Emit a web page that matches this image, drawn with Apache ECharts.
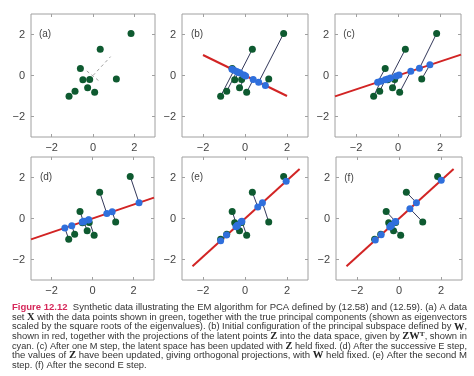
<!DOCTYPE html>
<html><head><meta charset="utf-8">
<script src="https://cdn.jsdelivr.net/npm/echarts@6/dist/echarts.min.js"></script>
<style>html,body{margin:0;padding:0;background:#fff}#c{width:474px;height:376px}</style>
</head><body><div id="c"></div>
<script>
// ---- data ----
const greenX = [1.84, 0.35, -0.61, -0.49, -0.16, 1.13, -0.26, 0.08, -0.87, -1.16];
const greenY = [2.05, 1.28, 0.34, -0.21, -0.20, -0.17, -0.60, -0.82, -0.77, -1.01];

const pcMajorX = [0.0, 0.85], pcMajorY = [0.0, 0.92];
const pcMinorX = [-0.30, 0.33], pcMinorY = [0.22, -0.30];

const redX_b = [-2, 2],     redY_b = [1.0, -1.0];
const redX_c = [-3, 3],     redY_c = [-1.02, 1.02];
const redX_d = [-3, 3],     redY_d = [-1.02, 1.02];
const redX_e = [-2.5, 2.6], redY_e = [-2.33, 2.42];
const redX_f = [-2.5, 2.6], redY_f = [-2.33, 2.42];

const blueX_b = [0.65, -0.23, -0.62, -0.31, -0.05, 0.97, 0.03, 0.39, -0.39, -0.52];
const blueY_b = [-0.33, 0.12, 0.31, 0.15, 0.02, -0.49, -0.02, -0.20, 0.19, 0.26];
const blueX_c = [1.02, -0.36, -0.97, -0.49, -0.08, 1.52, 0.05, 0.61, -0.61, -0.82];
const blueY_c = [0.35, -0.12, -0.33, -0.17, -0.03, 0.52, 0.02, 0.21, -0.21, -0.28];
const blueX_d = [2.27, 0.70, -0.44, -0.50, -0.20, 0.96, -0.42, -0.18, -1.01, -1.35];
const blueY_d = [0.77, 0.24, -0.15, -0.17, -0.07, 0.33, -0.14, -0.06, -0.35, -0.46];
const blueX_e = [1.96, 0.61, -0.38, -0.43, -0.18, 0.83, -0.36, -0.15, -0.88, -1.16];
const blueY_e = [1.82, 0.56, -0.36, -0.40, -0.16, 0.77, -0.33, -0.14, -0.81, -1.08];
const blueX_f = [2.01, 0.83, -0.16, -0.37, -0.19, 0.52, -0.44, -0.37, -0.85, -1.13];
const blueY_f = [1.87, 0.77, -0.15, -0.34, -0.17, 0.48, -0.41, -0.34, -0.79, -1.05];

const tickValues = [-2, 0, 2];
const panelLabels = ['(a)', '(b)', '(c)', '(d)', '(e)', '(f)'];

const captionLines = [
  '{r|Figure 12.12}  Synthetic data illustrating the EM algorithm for PCA defined by (12.58) and (12.59). (a) A data',
  'set {b|X} with the data points shown in green, together with the true principal components (shown as eigenvectors',
  'scaled by the square roots of the eigenvalues). (b) Initial configuration of the principal subspace defined by {b|W},',
  'shown in red, together with the projections of the latent points {b|Z} into the data space, given by {b|ZW}{s|T}, shown in',
  'cyan. (c) After one M step, the latent space has been updated with {b|Z} held fixed. (d) After the successive E step,',
  'the values of {b|Z} have been updated, giving orthogonal projections, with {b|W} held fixed. (e) After the second M',
  'step. (f) After the second E step.'
];

// ---- layout / style ----
const grids = [[31,14,124,123],[182,14,126,123],[335,14,126,123],[31,157,123,123],[182,157,126,123],[336,157,126,123]];
const labelPos = [[45,34],[197,34],[349,34],[46,177],[197,177],[349,178]];
const GREEN = '#0e5a30', BLUE = '#2f6fdc', RED = '#d22424', CONN = '#33385a';
const pairs = (xs, ys) => xs.map((x, i) => [x, ys[i]]);
const fmt = v => String(v).replace('-', '\u2212');

const reds = [null, [redX_b, redY_b], [redX_c, redY_c], [redX_d, redY_d], [redX_e, redY_e], [redX_f, redY_f]];
const blues = [null, [blueX_b, blueY_b], [blueX_c, blueY_c], [blueX_d, blueY_d], [blueX_e, blueY_e], [blueX_f, blueY_f]];

const grid = [], xAxis = [], yAxis = [], series = [], graphic = [];
grids.forEach((g, i) => {
  grid.push({left: g[0], top: g[1], width: g[2], height: g[3], show: true, borderColor: '#a0a0a0', borderWidth: 1, backgroundColor: 'transparent'});
  ['bottom', 'top'].forEach(pos => xAxis.push({
    gridIndex: i, type: 'value', min: -3, max: 3, position: pos,
    axisLine: {show: false, onZero: false}, splitLine: {show: false},
    axisTick: {show: true, inside: true, length: 3, customValues: tickValues, lineStyle: {color: '#a0a0a0'}},
    axisLabel: {show: pos === 'bottom', customValues: tickValues, formatter: fmt, color: '#444', fontSize: 11, fontFamily: 'Liberation Sans', margin: 5}
  }));
  ['left', 'right'].forEach(pos => yAxis.push({
    gridIndex: i, type: 'value', min: -3, max: 3, position: pos,
    axisLine: {show: false, onZero: false}, splitLine: {show: false},
    axisTick: {show: true, inside: true, length: 3, customValues: tickValues, lineStyle: {color: '#a0a0a0'}},
    axisLabel: {show: pos === 'left', customValues: tickValues, formatter: fmt, color: '#444', fontSize: 11, fontFamily: 'Liberation Sans', margin: 6}
  }));
  const ax = {xAxisIndex: 2 * i, yAxisIndex: 2 * i};
  if (i === 0) {
    [[pcMajorX, pcMajorY], [pcMinorX, pcMinorY]].forEach(p => series.push(Object.assign({
      type: 'line', data: pairs(p[0], p[1]), symbol: 'none', z: 1,
      lineStyle: {color: '#a0a0a0', width: 1, type: [3, 3]}
    }, ax)));
  } else {
    series.push(Object.assign({
      type: 'line', data: pairs(reds[i][0], reds[i][1]), symbol: 'none', z: 1, clip: true,
      lineStyle: {color: RED, width: 2}
    }, ax));
    const b = pairs(blues[i][0], blues[i][1]);
    series.push(Object.assign({
      type: 'lines', coordinateSystem: 'cartesian2d', z: 2,
      data: greenX.map((x, k) => ({coords: [[x, greenY[k]], b[k]]})),
      lineStyle: {color: CONN, width: 1, opacity: 1}
    }, ax));
  }
  series.push(Object.assign({
    type: 'scatter', data: pairs(greenX, greenY), symbolSize: 7, z: 3,
    itemStyle: {color: GREEN, opacity: 1}
  }, ax));
  if (i > 0) series.push(Object.assign({
    type: 'scatter', data: pairs(blues[i][0], blues[i][1]), symbolSize: 7, z: 4,
    itemStyle: {color: BLUE, opacity: 1}
  }, ax));
  graphic.push({type: 'text', x: labelPos[i][0], y: labelPos[i][1], z: 10,
    style: {text: panelLabels[i], fill: '#444', fontSize: 10, fontFamily: 'Liberation Sans', align: 'center', verticalAlign: 'middle'}});
});

// ---- caption (justified by horizontal scaling) ----
const FS = 8.5, FAM = "'Liberation Sans'";
const richDef = {
  r: {fill: '#d6285a', fontWeight: 'bold', fontSize: FS, fontFamily: FAM},
  b: {fill: '#222', fontWeight: 'bold', fontSize: 9.5, fontFamily: "'Liberation Serif'"},
  s: {fill: '#222', fontWeight: 'bold', fontSize: 6.5, fontFamily: "'Liberation Serif'", verticalAlign: 'top', padding: [0, 0, 4, 0]}
};
const cv = document.createElement('canvas').getContext('2d');
function measure(line) {
  let w = 0; const re = /\{(\w)\|([^}]*)\}|([^{]+)/g; let m;
  while ((m = re.exec(line))) {
    if (m[3]) { cv.font = `normal ${FS}px ${FAM}`; w += cv.measureText(m[3]).width; }
    else { const st = richDef[m[1]]; cv.font = `${st.fontWeight} ${st.fontSize}px ${st.fontFamily}`; w += cv.measureText(m[2]).width; }
  }
  return w;
}
const X0 = 12, TARGET = 455;
const scales = captionLines.map(l => TARGET / measure(l));
const avgScale = scales.slice(0, 6).reduce((a, b) => a + b, 0) / 6;
captionLines.forEach((l, k) => {
  graphic.push({type: 'text', x: X0, y: 308 + k * 9.55, scaleX: k < 6 ? scales[k] : avgScale, z: 10,
    style: {text: l, rich: richDef, fill: '#333', fontSize: FS, fontFamily: FAM, align: 'left', verticalAlign: 'middle'}});
});

const chart = echarts.init(document.getElementById('c'), null, {renderer: 'canvas'});
chart.setOption({animation: false, backgroundColor: '#fff', grid, xAxis, yAxis, series, graphic});
</script></body></html>
